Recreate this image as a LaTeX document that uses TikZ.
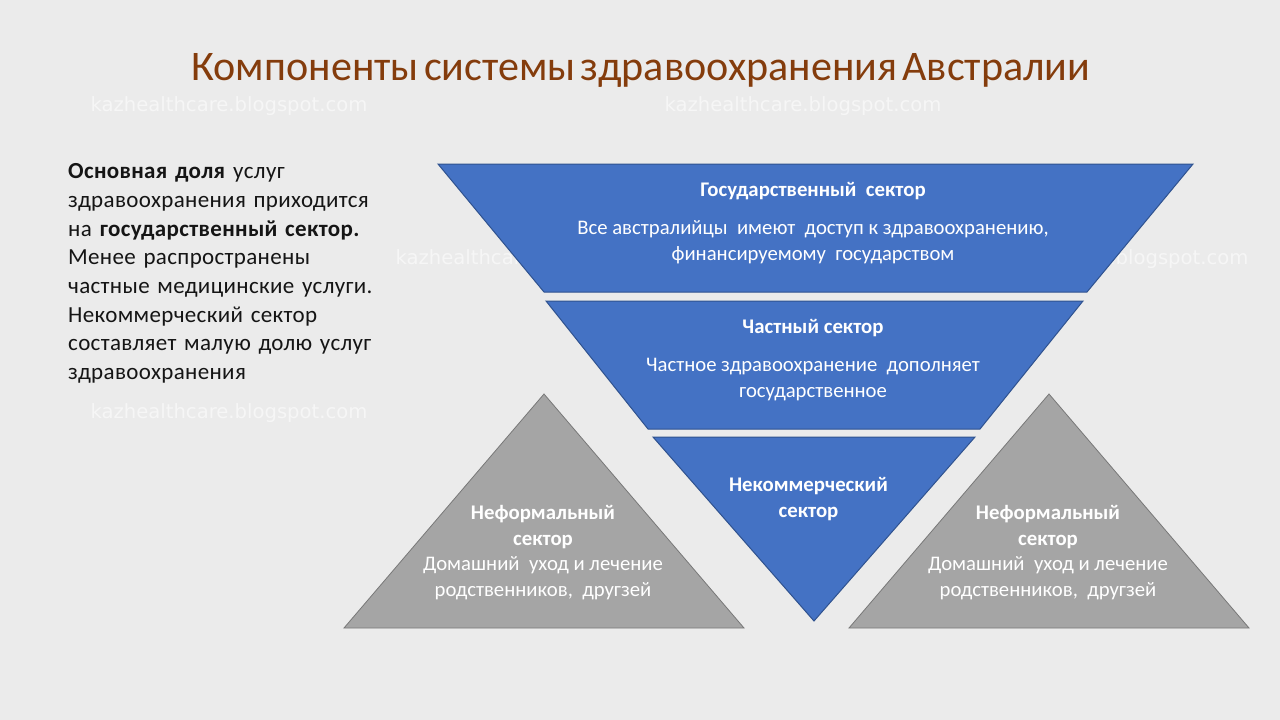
\documentclass[tikz,border=0pt]{standalone}
\usepackage{fontspec}
\setmainfont{Carlito}
\newfontfamily\wmfont{DejaVu Sans}
\newfontfamily\bodyfont[LetterSpace=1.5,WordSpace=0.7]{Carlito}
\newfontfamily\titlefont[WordSpace=0.55]{Carlito}
\definecolor{bgc}{HTML}{EBEBEB}
\definecolor{bluec}{HTML}{4472C4}
\definecolor{blueedge}{HTML}{2F528F}
\definecolor{grayc}{HTML}{A5A5A5}
\definecolor{grayedge}{HTML}{787878}
\definecolor{titlec}{HTML}{843C0C}
\definecolor{bodyc}{HTML}{151515}
\definecolor{wmc}{HTML}{F6F6F6}
\tikzset{
  x=1pt,y=-1pt,
  bluefig/.style={fill=bluec,draw=blueedge,line width=1pt,line join=miter},
  grayfig/.style={fill=grayc,draw=grayedge,line width=0.8pt,line join=miter},
  wm/.style={font=\wmfont\fontsize{19.6}{22}\selectfont,text=wmc,inner sep=0pt},
  head/.style={font=\fontsize{20.8}{26}\selectfont\bfseries,text=white,inner sep=0pt,align=center},
  sub/.style={font=\fontsize{20.7}{26}\selectfont,text=white,inner sep=0pt,align=center},
}
\begin{document}
\begin{tikzpicture}
\useasboundingbox (0,0) rectangle (1280,720);
\fill[bgc] (0,0) rectangle (1280,720);
\node[wm] (w1) at (229,106) {kazhealthcare.blogspot.com};
\node[wm] (w2) at (803,106) {kazhealthcare.blogspot.com};
\node[wm] (w3) at (534,259) {kazhealthcare.blogspot.com};
\node[wm] (w4) at (1110,259) {kazhealthcare.blogspot.com};
\node[wm] (w5) at (229,413) {kazhealthcare.blogspot.com};
\node[font=\titlefont\fontsize{42.1}{46}\selectfont,text=titlec,inner sep=0pt] (title) at (641,70) {Компоненты системы здравоохранения Австралии};
\node[anchor=north west,inner sep=0pt,align=left,text=bodyc,text width=340pt,font=\bodyfont\fontsize{23}{28.7}\selectfont] (body) at (68,163.5)
 {\textbf{Основная доля} услуг\\здравоохранения приходится\\на \textbf{государственный сектор.}\\Менее распространены\\частные медицинские услуги.\\Некоммерческий сектор\\составляет малую долю услуг\\здравоохранения};
\draw[bluefig] (438,164) -- (1193,164) -- (1087,292) -- (544,292) -- cycle;
\draw[bluefig] (546,301) -- (1083,301) -- (980,429) -- (648,429) -- cycle;
\draw[bluefig] (653,437) -- (975,437) -- (814,621) -- cycle;
\draw[grayfig] (544,394) -- (744,628) -- (344,628) -- cycle;
\draw[grayfig] (1049,394) -- (1249,628) -- (849,628) -- cycle;
\node[head] (h1) at (813,191.5) {Государственный\ \ сектор};
\node[sub] (s1) at (813,242.5) {Все австралийцы\ \ имеют\ \ доступ к здравоохранению,\\финансируемому\ \ государством};
\node[head] (h2) at (813,328.5) {Частный сектор};
\node[sub] (s2) at (813,379.5) {Частное здравоохранение\ \ дополняет\\государственное};
\node[head] (h3) at (808.5,499.5) {Некоммерческий\\сектор};
\node[head] (h4) at (543,527.5) {Неформальный\\сектор};
\node[sub] (s4) at (543,578.5) {Домашний\ \ уход и лечение\\родственников,\ \ другзей};
\node[head] (h5) at (1048,527.5) {Неформальный\\сектор};
\node[sub] (s5) at (1048,578.5) {Домашний\ \ уход и лечение\\родственников,\ \ другзей};
\end{tikzpicture}
\end{document}
